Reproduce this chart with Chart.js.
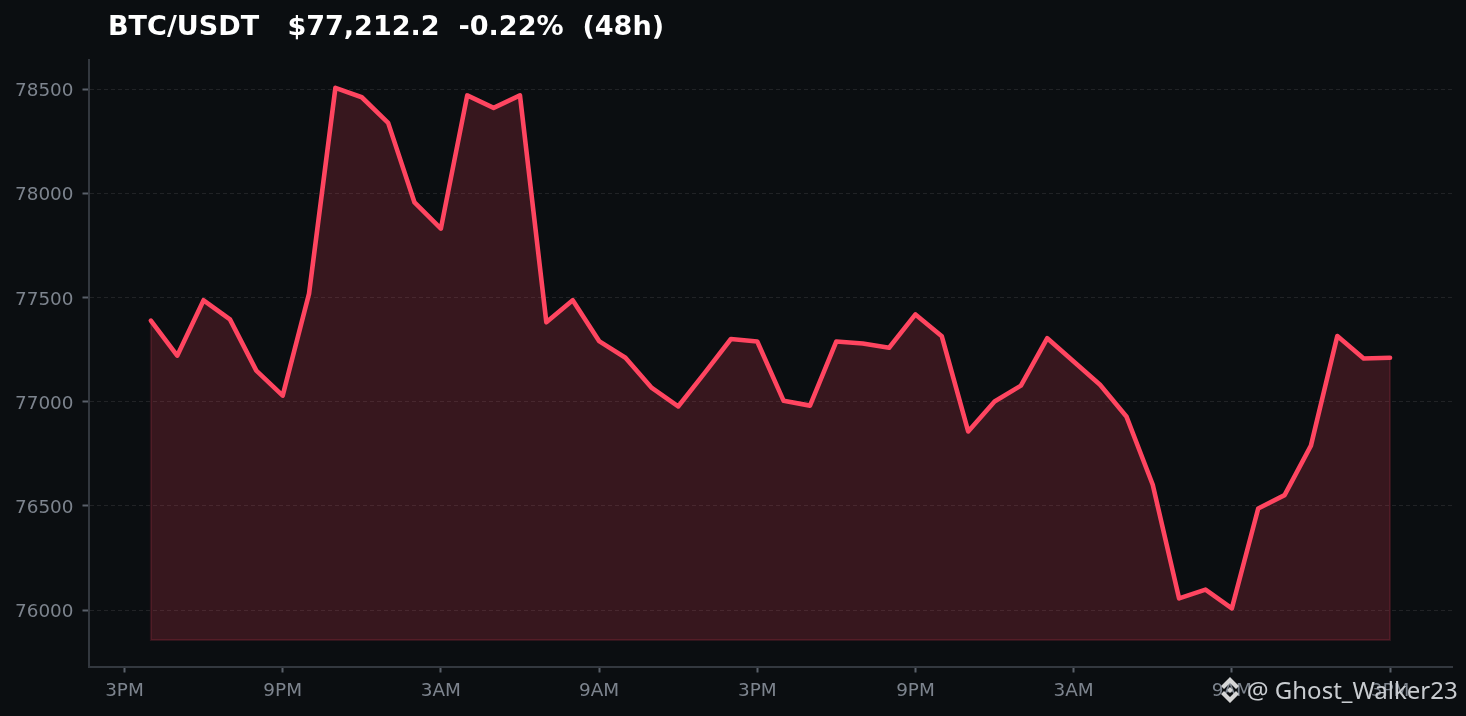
<!DOCTYPE html>
<html>
<head>
<meta charset="utf-8">
<script src="https://cdn.jsdelivr.net/npm/chart.js@4"></script>
<style>
html,body{margin:0;padding:0;background:#0b0e11;width:1466px;height:716px;overflow:hidden}
#wrap{position:absolute;left:0;top:0;width:1466px;height:716px}
#title{position:absolute;left:108px;top:10px;font:bold 27.05px "DejaVu Sans";color:#fff;white-space:pre;line-height:32px}
#mark{position:absolute;left:1247px;top:674px;font:24px "Noto Sans";color:#c9ccd0;white-space:pre;line-height:32px}
#icon{position:absolute;left:1217px;top:676px}
</style>
</head>
<body>
<div id="wrap"><canvas id="c" width="1466" height="716"></canvas></div>
<div id="title">BTC/USDT   $77,212.2  -0.22%  (48h)</div>
<svg id="icon" width="26" height="28" viewBox="0 0 26 28"><g fill="#d6d6d6"><path d="M13 1l9 9-3 3-6-6-6 6-3-3z"/><path d="M13 27l9-9-3-3-6 6-6-6-3 3z"/><path d="M13 11l3 3-3 3-3-3z"/></g></svg>
<div id="mark">@ Ghost_Walker23</div>
<script>
const hours = [1,2,3,4,5,6,7,8,9,10,11,12,13,14,15,16,17,18,19,20,21,22,23,24,25,26,27,28,29,30,31,32,33,34,35,36,37,38,39,40,41,42,43,44,45,46,47,48];
const prices = [77390,77222,77488,77396,77150,77030,77520,78508,78463,78340,77958,77832,78472,78412,78472,77382,77488,77292,77212,77067,76978,77138,77302,77290,77005,76982,77290,77280,77260,77420,77315,76858,77002,77078,77306,77194,77082,76930,76602,76056,76098,76008,76488,76552,76790,77316,77208,77212];
const baseline = 75856;
const tickHours = [0,6,12,18,24,30,36,42,48];
const tickLabels = ['3PM','9PM','3AM','9AM','3PM','9PM','3AM','9AM','3PM'];
const yTicks = [76000,76500,77000,77500,78000,78500];

const points = hours.map((h,i)=>({x:h,y:prices[i]}));
const n = hours.length-1;
const outline = [
  {x:hours[0],y:prices[0]},{x:hours[0],y:baseline},
  {x:hours[n],y:baseline},{x:hours[n],y:prices[n]}
];
const tickFont = {family:'"DejaVu Sans"',size:18.4};
function nudgeLabels(s,dy){
  const draw=s.drawLabels;
  s.drawLabels=function(area){
    const ctx=this.ctx;ctx.save();ctx.translate(0,dy);draw.call(this,area);ctx.restore();
  };
}
new Chart(document.getElementById('c'),{
  type:'line',
  data:{datasets:[
    {data:outline,borderColor:'rgba(255,69,96,0.15)',borderWidth:2,pointRadius:0,fill:false,tension:0,order:2},
    {data:points,borderColor:'#ff4560',borderWidth:4.6,pointRadius:0,tension:0,
     fill:{value:baseline},backgroundColor:'rgba(255,69,96,0.18)',
     borderJoinStyle:'round',borderCapStyle:'round',order:1}
  ]},
  options:{
    responsive:false,animation:false,devicePixelRatio:1,
    layout:{padding:{left:0,right:14,top:60,bottom:0}},
    plugins:{legend:{display:false},tooltip:{enabled:false},title:{display:false}},
    scales:{
      x:{type:'linear',min:-1.365,max:50.35,
        afterFit(s){s.height=49.5;nudgeLabels(s,2);},
        afterBuildTicks(s){s.ticks=tickHours.map(v=>({value:v}));},
        border:{color:'#33383f',width:2},
        grid:{color:'transparent',drawOnChartArea:false,tickColor:'#5a606a',tickLength:6,tickWidth:2},
        ticks:{color:'#7d848e',font:tickFont,maxRotation:0,autoSkip:false,padding:6,
          callback(v){const i=tickHours.indexOf(v);return i<0?'':tickLabels[i];}}
      },
      y:{type:'linear',min:75729,max:78642,
        afterFit(s){s.width=88.5;nudgeLabels(s,1);},
        afterBuildTicks(s){s.ticks=yTicks.map(v=>({value:v}));},
        border:{color:'#33383f',width:2,dash:[4,3]},
        grid:{color:'rgba(255,255,255,0.09)',lineWidth:1,tickColor:'#5a606a',tickLength:6,tickWidth:2,tickBorderDash:[],tickBorderDashOffset:0},
        ticks:{color:'#7d848e',font:tickFont,padding:9,callback(v){return String(v);}}
      }
    }
  }
});
</script>
</body>
</html>
